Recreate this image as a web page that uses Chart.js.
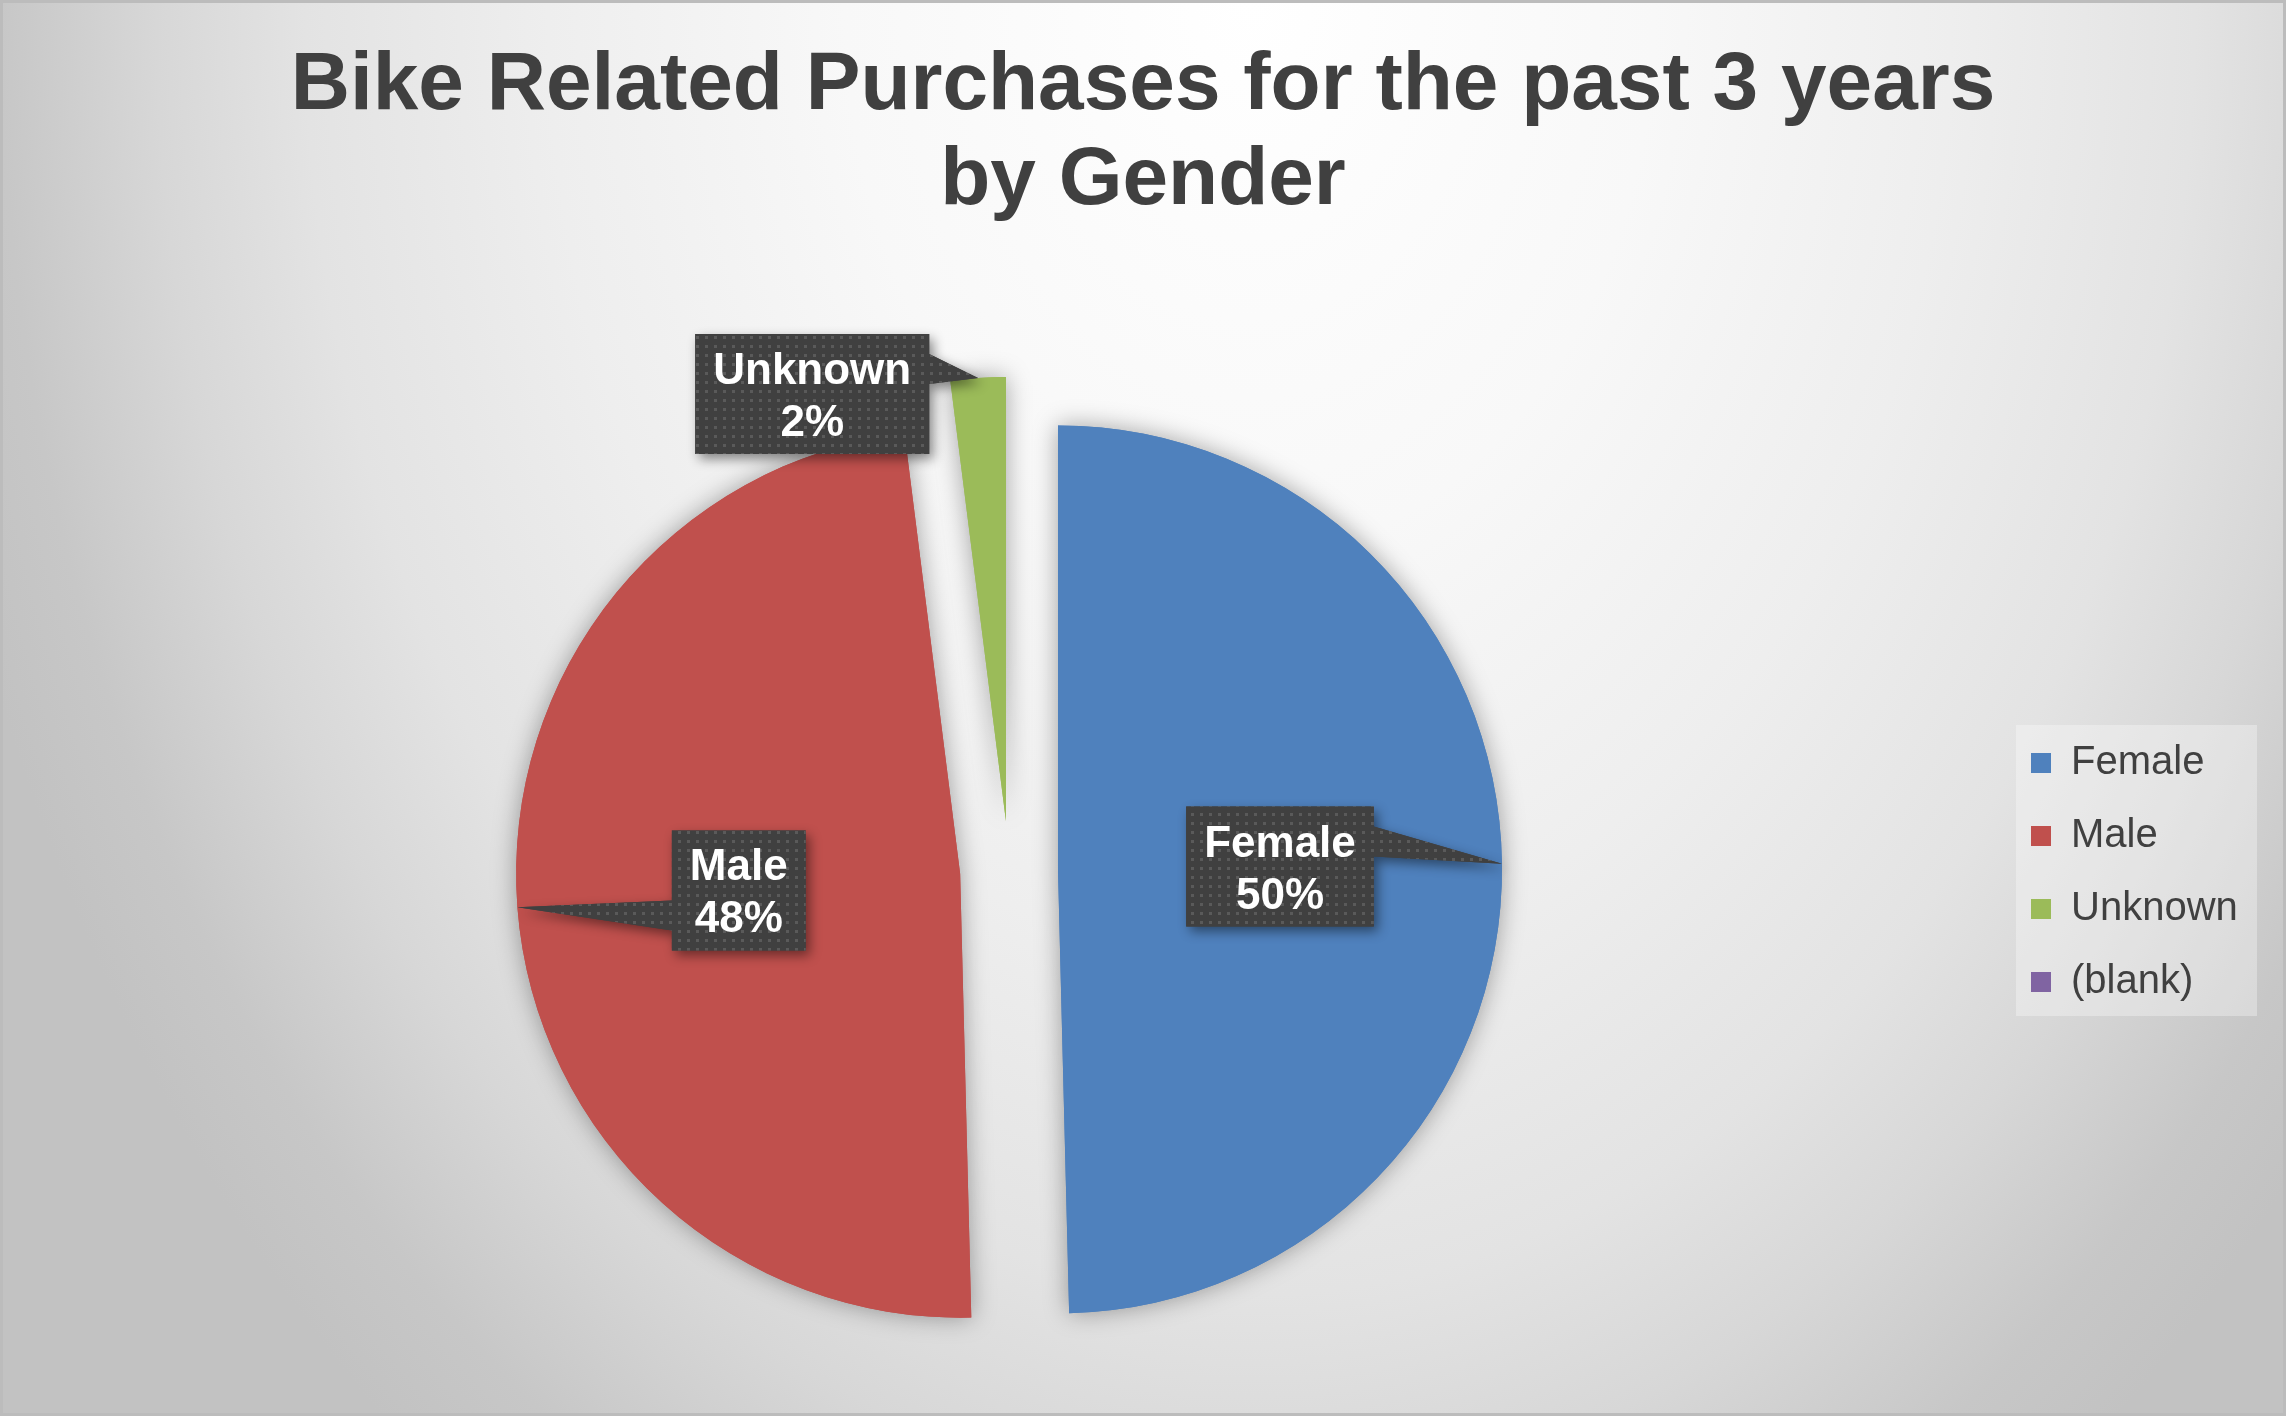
<!DOCTYPE html>
<html>
<head>
<meta charset="utf-8">
<script src="https://cdn.jsdelivr.net/npm/chart.js@4.4.1/dist/chart.umd.min.js"></script>
<style>
html,body{margin:0;padding:0;background:#ffffff;overflow:hidden}
canvas{display:block}
</style>
</head>
<body>
<canvas id="c" width="2286" height="1416"></canvas>
<script>
// ---- data ----
const titleLines = ['Bike Related Purchases for the past 3 years', 'by Gender'];
const categories = ['Female', 'Male', 'Unknown', '(blank)'];
const shares = [49.6, 48.4, 2.0, 0];
const sliceColors = ['#4F81BD', '#C0504D', '#9BBB59', '#8064A2'];

// ---- style ----
const FONT = '"Liberation Sans", Arial, sans-serif';
const TEXT_COLOR = '#404040';
const EXPLODE = 49;
const PIE_RADIUS = 444;
// callout placement: distance from slice centre (fraction of radius), angular shift (deg)
const labelPlacement = [{d: 0.5, da: 0}, {d: 0.5, da: 0}, {d: 1.056, da: -20.8}, null];

const bgPlugin = {
  id: 'bg',
  beforeDraw(chart) {
    const {ctx, width, height} = chart;
    ctx.save();
    ctx.fillStyle = '#c2c2c2';
    ctx.fillRect(0, 0, width, height);
    ctx.save();
    ctx.translate(1250, 0);
    ctx.scale(1, 1.37);
    const g = ctx.createRadialGradient(0, 0, 0, 0, 0, 1350);
    g.addColorStop(0, '#ffffff');
    g.addColorStop(0.3, '#f8f8f8');
    g.addColorStop(0.52, '#eeeeee');
    g.addColorStop(0.7, '#e3e3e3');
    g.addColorStop(0.81, '#d7d7d7');
    g.addColorStop(0.926, '#c7c7c7');
    g.addColorStop(1, '#c2c2c2');
    ctx.fillStyle = g;
    ctx.fillRect(-width * 2, -height, width * 4, height * 3);
    ctx.restore();
    // outer frame
    ctx.strokeStyle = '#bcbcbc';
    ctx.lineWidth = 3;
    ctx.strokeRect(1.5, 1.5, width - 3, height - 3);
    // legend panel
    const lg = chart.legend;
    if (lg) {
      ctx.fillStyle = 'rgba(255,255,255,0.32)';
      ctx.fillRect(lg.left + 18, lg.top + 15, 241, 291);
    }
    ctx.restore();
  }
};

const placePlugin = {
  id: 'place',
  afterLayout(chart) {
    const t = chart.titleBlock;
    if (t) { t.left = 0; t.right = chart.width; t.width = chart.width; }
    const lg = chart.legend;
    if (lg) {
      lg.left = 1998; lg.top = 710;
      lg.right = chart.width; lg.bottom = chart.height;
      lg.width = lg.right - lg.left; lg.height = lg.bottom - lg.top;
    }
  }
};

const explodePlugin = {
  id: 'explode',
  beforeDatasetDraw(chart, args) {
    const ctx = chart.ctx;
    const arcs = args.meta.data;
    const shift = (arc) => {
      const m = (arc.startAngle + arc.endAngle) / 2;
      return [Math.cos(m) * EXPLODE, Math.sin(m) * EXPLODE];
    };
    arcs.forEach(arc => {
      const [dx, dy] = shift(arc);
      ctx.save();
      ctx.translate(dx, dy);
      ctx.shadowColor = 'rgba(0,0,0,0.35)';
      ctx.shadowBlur = 24;
      arc.draw(ctx);
      ctx.restore();
    });
    arcs.forEach(arc => {
      const [dx, dy] = shift(arc);
      ctx.save();
      ctx.translate(dx, dy);
      arc.draw(ctx);
      ctx.restore();
    });
    return false;
  }
};

function makeDotPattern(ctx) {
  const c = document.createElement('canvas');
  c.width = 9; c.height = 9;
  const p = c.getContext('2d');
  p.fillStyle = '#404040';
  p.fillRect(0, 0, 9, 9);
  p.fillStyle = '#5a5a5a';
  p.fillRect(3, 3, 3, 3);
  return ctx.createPattern(c, 'repeat');
}

function calloutPath(ctx, x0, y0, w, h, tx, ty) {
  const cx = x0 + w / 2, cy = y0 + h / 2;
  const dxPos = tx - cx, dyPos = ty - cy;
  const horiz = Math.abs(dxPos) * h > Math.abs(dyPos) * w;
  const ya = dyPos > 0 ? h * 7 / 12 : h * 2 / 12;
  const yb = dyPos > 0 ? h * 10 / 12 : h * 5 / 12;
  const xa = dxPos > 0 ? w * 7 / 12 : w * 2 / 12;
  const xb = dxPos > 0 ? w * 10 / 12 : w * 5 / 12;
  ctx.beginPath();
  ctx.moveTo(x0, y0);
  if (!horiz && dyPos < 0) { ctx.lineTo(x0 + xa, y0); ctx.lineTo(tx, ty); ctx.lineTo(x0 + xb, y0); }
  ctx.lineTo(x0 + w, y0);
  if (horiz && dxPos > 0) { ctx.lineTo(x0 + w, y0 + ya); ctx.lineTo(tx, ty); ctx.lineTo(x0 + w, y0 + yb); }
  ctx.lineTo(x0 + w, y0 + h);
  if (!horiz && dyPos > 0) { ctx.lineTo(x0 + xb, y0 + h); ctx.lineTo(tx, ty); ctx.lineTo(x0 + xa, y0 + h); }
  ctx.lineTo(x0, y0 + h);
  if (horiz && dxPos < 0) { ctx.lineTo(x0, y0 + yb); ctx.lineTo(tx, ty); ctx.lineTo(x0, y0 + ya); }
  ctx.closePath();
}

const calloutPlugin = {
  id: 'callouts',
  afterDatasetsDraw(chart) {
    const ctx = chart.ctx;
    const meta = chart.getDatasetMeta(0);
    const data = chart.data.datasets[0].data;
    const total = data.reduce((a, b) => a + b, 0);
    const pattern = makeDotPattern(ctx);
    meta.data.forEach((arc, i) => {
      const place = labelPlacement[i];
      if (!place || !data[i]) return;
      const mid = (arc.startAngle + arc.endAngle) / 2;
      const R = arc.outerRadius;
      const cx = arc.x + Math.cos(mid) * EXPLODE;
      const cy = arc.y + Math.sin(mid) * EXPLODE;
      const tipX = cx + Math.cos(mid) * R;
      const tipY = cy + Math.sin(mid) * R;
      const la = mid + place.da * Math.PI / 180;
      const bx = cx + Math.cos(la) * R * place.d;
      const by = cy + Math.sin(la) * R * place.d;
      const lines = [chart.data.labels[i], Math.round(data[i] / total * 100) + '%'];
      ctx.save();
      ctx.font = 'bold 44px ' + FONT;
      const tw = Math.max(...lines.map(t => ctx.measureText(t).width));
      const w = tw + 36, h = 120;
      const x0 = bx - w / 2, y0 = by - h / 2;
      ctx.save();
      ctx.shadowColor = 'rgba(0,0,0,0.45)';
      ctx.shadowBlur = 12;
      ctx.shadowOffsetX = 4;
      ctx.shadowOffsetY = 5;
      ctx.fillStyle = '#404040';
      calloutPath(ctx, x0, y0, w, h, tipX, tipY);
      ctx.fill();
      ctx.restore();
      ctx.fillStyle = pattern;
      calloutPath(ctx, x0, y0, w, h, tipX, tipY);
      ctx.fill();
      ctx.fillStyle = '#ffffff';
      ctx.textAlign = 'center';
      ctx.textBaseline = 'alphabetic';
      ctx.fillText(lines[0], bx, by - 10);
      ctx.fillText(lines[1], bx, by + 42);
      ctx.restore();
    });
  }
};

new Chart(document.getElementById('c'), {
  type: 'pie',
  data: {
    labels: categories,
    datasets: [{
      data: shares,
      backgroundColor: sliceColors,
      borderWidth: 0,
      hoverOffset: 0
    }]
  },
  options: {
    responsive: false,
    animation: false,
    devicePixelRatio: 1,
    events: [],
    radius: PIE_RADIUS,
    layout: {padding: {left: 18, right: 286, top: 0, bottom: 0}},
    plugins: {
      title: {
        display: true,
        text: titleLines,
        color: TEXT_COLOR,
        font: {family: FONT, size: 82, weight: 'bold', lineHeight: 95 / 82},
        padding: {top: 39, bottom: 95}
      },
      legend: {
        position: 'chartArea',
        fullSize: false,
        align: 'start',
        labels: {
          boxWidth: 20,
          boxHeight: 20,
          padding: 33,
          color: TEXT_COLOR,
          font: {family: FONT, size: 40}
        }
      },
      tooltip: {enabled: false}
    }
  },
  plugins: [bgPlugin, placePlugin, explodePlugin, calloutPlugin]
});
</script>
</body>
</html>
